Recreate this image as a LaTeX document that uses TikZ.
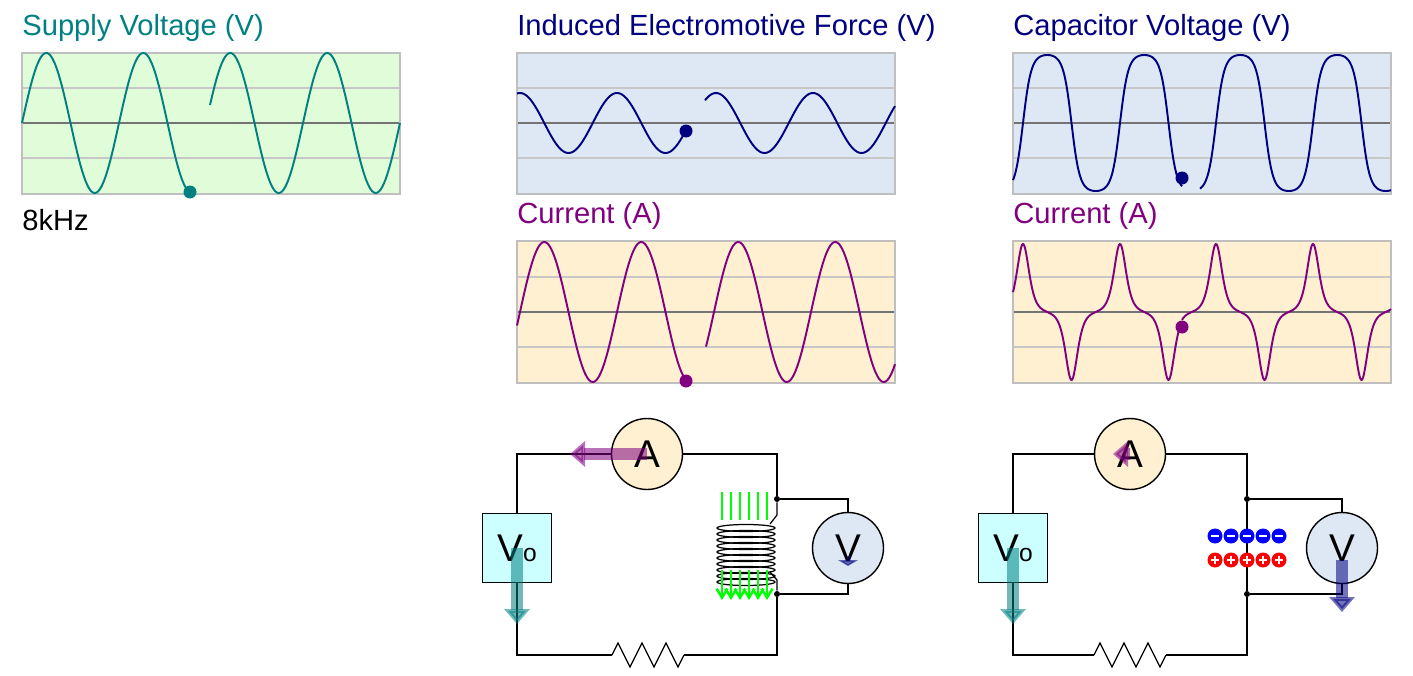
\documentclass[tikz,border=0pt]{standalone}
\usepackage{fontspec}
\setmainfont{Liberation Sans}
\usetikzlibrary{positioning,arrows.meta}
\definecolor{teal}{RGB}{0,128,128}
\definecolor{navy}{RGB}{0,0,128}
\definecolor{purp}{RGB}{128,0,128}
\definecolor{greenbg}{RGB}{224,252,216}
\definecolor{bluebg}{RGB}{221,232,244}
\definecolor{orangebg}{RGB}{254,240,208}
\definecolor{cyanbg}{RGB}{204,255,255}
\begin{document}
\begin{tikzpicture}[x=0.02cm, y=-0.02cm, font=\fontsize{16.6}{18}\selectfont,
panel/.style={draw=black!25, line width=0.8pt},
grid/.style={draw=black!22, line width=0.8pt},
axis/.style={draw=black!55, line width=0.8pt},
wave/.style={line width=1.1pt, smooth},
dot/.style={circle, fill, inner sep=0pt, minimum size=0.26cm},
title/.style={anchor=south west, inner sep=0pt},
wire/.style={line width=0.7pt},
meter/.style={circle, draw, line width=0.8pt, minimum size=1.42cm, inner sep=0pt, font=\fontsize{22}{24}\selectfont},
source/.style={rectangle, draw, line width=0.8pt, fill=cyanbg, minimum size=1.38cm, font=\fontsize{22}{24}\selectfont},
junct/.style={circle, fill, inner sep=0pt, minimum size=0.12cm},
flow/.style={line width=0.24cm, -{Triangle[length=0.3cm, width=0.5cm]}, opacity=0.55}]
\useasboundingbox (0,0) rectangle (1413,676);

% supply voltage
\fill[greenbg] (22,53) rectangle (400,194);
\draw[grid] (22,88) -- (400,88) (22,158) -- (400,158);
\draw[axis] (22,123) -- (400,123);
\draw[panel] (22,53) rectangle (400,194);
\draw[teal, wave] plot[domain=22:190, samples=120] (\x, {123-70*sin((\x-22)/97*360)});
\draw[teal, wave] plot[domain=210:400, samples=130] (\x, {123-70*sin((\x-206)/97*360)});
\node[dot, teal] (s) at (190,192) {};
\node[title, teal] (t1) at (22,42) {Supply Voltage (V)};
\node[title, anchor=north west] (f) at (22,209) {8kHz};

% induced emf
\fill[bluebg] (517,53) rectangle (895,194);
\draw[grid] (517,88) -- (895,88) (517,158) -- (895,158);
\draw[axis] (517,123) -- (895,123);
\draw[panel] (517,53) rectangle (895,194);
\draw[navy, wave] plot[domain=517:686, samples=120] (\x, {123-30*cos((\x-520)/97*360)});
\draw[navy, wave] plot[domain=705:895, samples=130] (\x, {123-30*cos((\x-716)/97*360)});
\node[dot, navy] (e) at (686,131) {};
\node[title, navy] (t2) at (517,42) {Induced Electromotive Force (V)};

% inductor current
\fill[orangebg] (517,241) rectangle (895,383);
\draw[grid] (517,277) -- (895,277) (517,347) -- (895,347);
\draw[axis] (517,312) -- (895,312);
\draw[panel] (517,241) rectangle (895,383);
\draw[purp, wave] plot[domain=517:686, samples=120] (\x, {312-70*sin((\x-520)/97*360)});
\draw[purp, wave] plot[domain=706:895, samples=130] (\x, {312-70*sin((\x-714)/97*360)});
\node[dot, purp] (i1) at (686,381) {};
\node[title, purp] (t3) at (517,230) {Current (A)};

% capacitor voltage
\fill[bluebg] (1013,53) rectangle (1391,194);
\draw[grid] (1013,88) -- (1391,88) (1013,158) -- (1391,158);
\draw[axis] (1013,123) -- (1391,123);
\draw[panel] (1013,53) rectangle (1391,194);
\draw[navy, wave] plot[domain=1013:1182, samples=160] (\x, {123-68*tanh(1.8*sin((\x-1023)/97*360))/tanh(1.8)});
\draw[navy, wave] plot[domain=1200:1391, samples=160] (\x, {123-68*tanh(1.8*sin((\x-1216)/97*360))/tanh(1.8)});
\node[dot, navy] (c) at (1182,178) {};
\node[title, navy] (t4) at (1013,42) {Capacitor Voltage (V)};

% capacitor current
\fill[orangebg] (1013,241) rectangle (1391,383);
\draw[grid] (1013,277) -- (1391,277) (1013,347) -- (1391,347);
\draw[axis] (1013,312) -- (1391,312);
\draw[panel] (1013,241) rectangle (1391,383);
\draw[purp, wave] plot[domain=1013:1182, samples=240] (\x, {312-68*cos((\x-1023)/97*360)/(cosh(1.8*sin((\x-1023)/97*360)))^2});
\draw[purp, wave] plot[domain=1182:1391, samples=280] (\x, {312-68*cos((\x-1216)/97*360)/(cosh(1.8*sin((\x-1216)/97*360)))^2});
\node[dot, purp] (i2) at (1182,327) {};
\node[title, purp] (t5) at (1013,230) {Current (A)};

% inductor circuit
\node[meter, fill=orangebg] (A1) at (647,454) {A};
\node[source] (V1) at (517,548) {V{\fontsize{14}{14}\selectfont o}};
\node[meter, fill=bluebg] (M1) at (848,548) {V};
\node[junct] (j1) at (777,499) {};
\node[junct] (j2) at (777,594) {};
\coordinate (r1a) at (612,655);
\coordinate (r1b) at (684,655);
\draw[wire] (A1) -- (517,454) -- (V1);
\draw[wire] (V1) -- (517,655) -- (r1a);
\draw[wire] (r1a) -- ++(6,-12) -- ++(12,24) -- ++(12,-24) -- ++(12,24) -- ++(12,-24) -- ++(12,24) -- (r1b);
\draw[wire] (r1b) -- (777,655) -- (j2);
\draw[wire] (A1) -- (777,454) -- (j1);
\draw[wire] (j1) -- (848,499) -- (M1);
\draw[wire] (j2) -- (848,594) -- (M1);
\draw[wire] (j1) -- (777,515) -- (770,524);
\draw[wire] (j2) -- (777,580) -- (770,572);
\foreach \y in {528,534,...,582}
  \draw[wire] (746,\y) ellipse [x radius=0.58cm, y radius=0.07cm];
\foreach \x in {722,731,...,767} {
  \draw[green, line width=1.4pt] (\x,492) -- (\x,520);
  \draw[green, line width=1.4pt, -{Straight Barb[length=0.18cm, width=0.22cm]}] (\x,570) -- (\x,600);
}
\draw[purp, flow] (A1.center) -- (570,454);
\draw[teal, flow] (V1.center) -- (517,624);
\draw[navy, line width=0.06cm, -{Triangle[length=0.12cm, width=0.4cm]}, opacity=0.55] (848,556) -- (848,566);

% capacitor circuit
\node[meter, fill=orangebg] (A2) at (1130,454) {A};
\node[source] (V2) at (1013,548) {V{\fontsize{14}{14}\selectfont o}};
\node[meter, fill=bluebg] (M2) at (1342,548) {V};
\node[junct] (j3) at (1247,499) {};
\node[junct] (j4) at (1247,594) {};
\coordinate (r2a) at (1094,655);
\coordinate (r2b) at (1166,655);
\draw[wire] (A2) -- (1013,454) -- (V2);
\draw[wire] (V2) -- (1013,655) -- (r2a);
\draw[wire] (r2a) -- ++(6,-12) -- ++(12,24) -- ++(12,-24) -- ++(12,24) -- ++(12,-24) -- ++(12,24) -- (r2b);
\draw[wire] (r2b) -- (1247,655) -- (j4);
\draw[wire] (A2) -- (1247,454) -- (j3);
\draw[wire] (j3) -- (j4);
\draw[wire] (j3) -- (1342,499) -- (M2);
\draw[wire] (j4) -- (1342,594) -- (M2);
\foreach \x in {1215,1231,...,1280} {
  \fill[blue] (\x,536) circle [radius=0.15cm];
  \draw[white, line width=1.3pt] (\x-4,536) -- (\x+4,536);
  \fill[red] (\x,560) circle [radius=0.15cm];
  \draw[white, line width=1.3pt] (\x-4,560) -- (\x+4,560) (\x,556) -- (\x,564);
}
\draw[purp, flow] (A2.center) -- (1113,454);
\draw[teal, flow] (V2.center) -- (1013,624);
\draw[navy, flow] (1342,560) -- (1342,612);
\end{tikzpicture}
\end{document}
